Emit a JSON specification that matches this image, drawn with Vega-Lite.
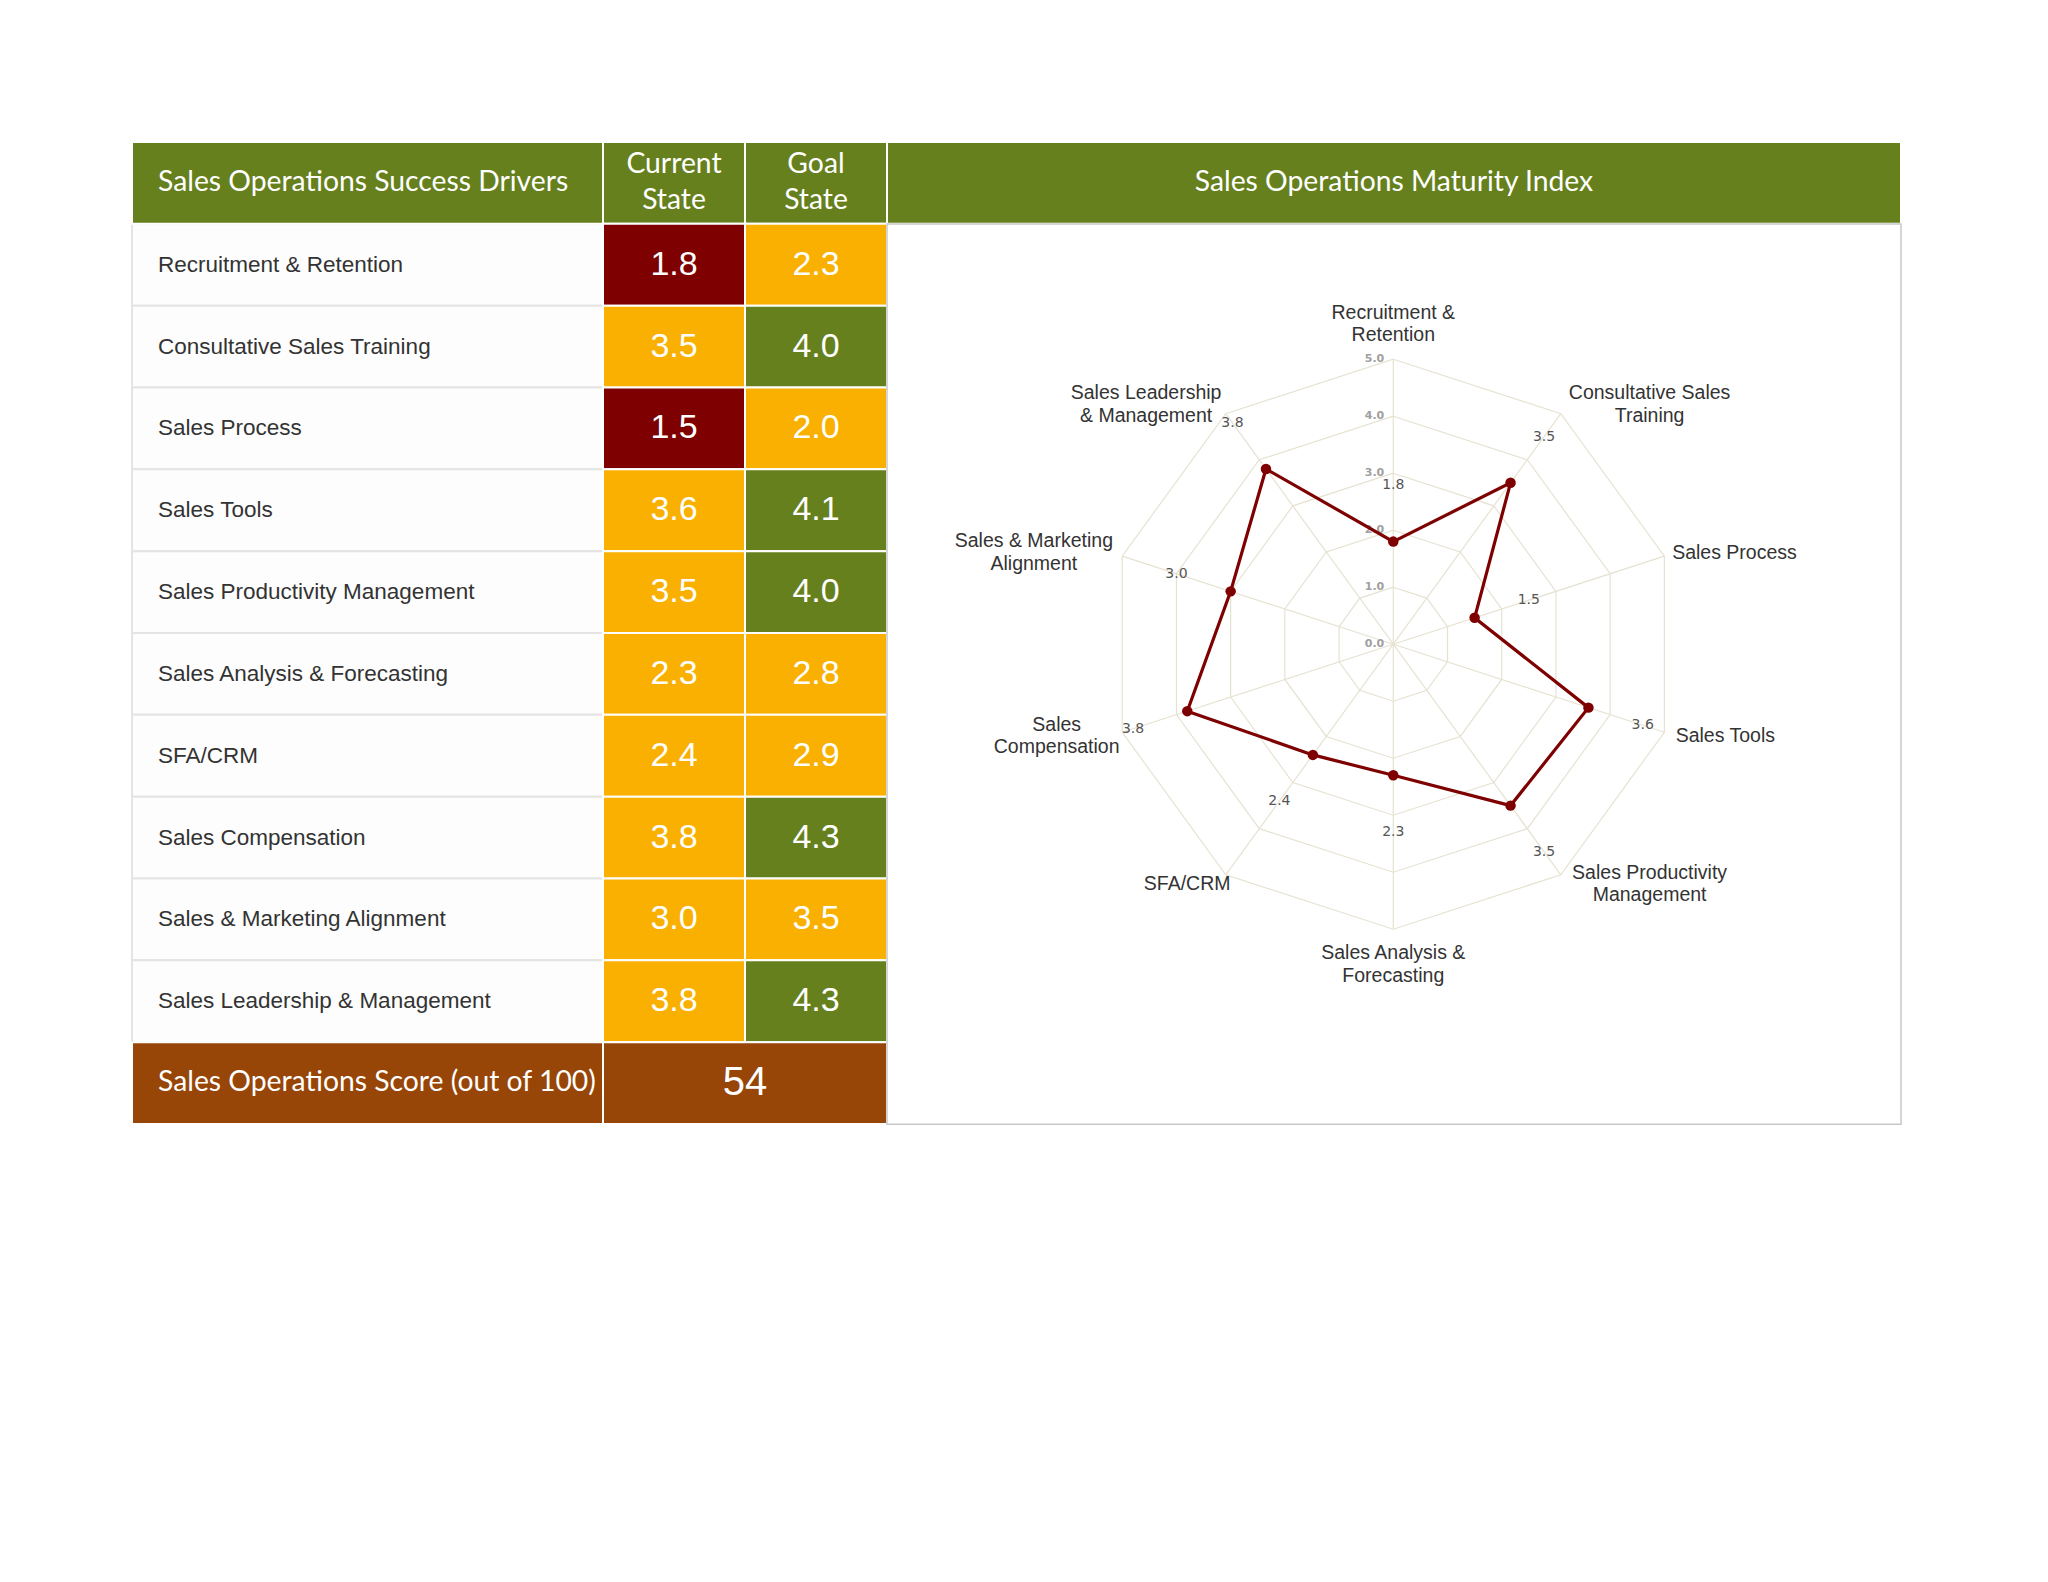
{
  "$schema": "https://vega.github.io/schema/vega-lite/v6.json",
  "background": "#ffffff",
  "padding": {"left": 131, "top": 141, "right": 0, "bottom": 0},
  "config": {"view": {"stroke": null}, "concat": {"spacing": 0}, "text": {"font": "Liberation Sans"}},
  "datasets": {
    "drivers": [
      {"i": 0, "driver": "Recruitment & Retention", "current": 1.8, "goal": 2.3, "lab": ["Recruitment &", "Retention"]},
      {"i": 1, "driver": "Consultative Sales Training", "current": 3.5, "goal": 4.0, "lab": ["Consultative Sales", "Training"]},
      {"i": 2, "driver": "Sales Process", "current": 1.5, "goal": 2.0, "lab": ["Sales Process"]},
      {"i": 3, "driver": "Sales Tools", "current": 3.6, "goal": 4.1, "lab": ["Sales Tools"]},
      {"i": 4, "driver": "Sales Productivity Management", "current": 3.5, "goal": 4.0, "lab": ["Sales Productivity", "Management"]},
      {"i": 5, "driver": "Sales Analysis & Forecasting", "current": 2.3, "goal": 2.8, "lab": ["Sales Analysis &", "Forecasting"]},
      {"i": 6, "driver": "SFA/CRM", "current": 2.4, "goal": 2.9, "lab": ["SFA/CRM"]},
      {"i": 7, "driver": "Sales Compensation", "current": 3.8, "goal": 4.3, "lab": ["Sales", "Compensation"]},
      {"i": 8, "driver": "Sales & Marketing Alignment", "current": 3.0, "goal": 3.5, "lab": ["Sales & Marketing", "Alignment"]},
      {"i": 9, "driver": "Sales Leadership & Management", "current": 3.8, "goal": 4.3, "lab": ["Sales Leadership", "& Management"]}
    ],
    "levels": [{"lv": 0}, {"lv": 1}, {"lv": 2}, {"lv": 3}, {"lv": 4}, {"lv": 5}],
    "rings": [
      {"lv": 1, "i": [0, 1, 2, 3, 4, 5, 6, 7, 8, 9]},
      {"lv": 2, "i": [0, 1, 2, 3, 4, 5, 6, 7, 8, 9]},
      {"lv": 3, "i": [0, 1, 2, 3, 4, 5, 6, 7, 8, 9]},
      {"lv": 4, "i": [0, 1, 2, 3, 4, 5, 6, 7, 8, 9]},
      {"lv": 5, "i": [0, 1, 2, 3, 4, 5, 6, 7, 8, 9]}
    ]
  },
  "spacing": 0,
  "bounds": "flush",
  "hconcat": [
    {
      "width": 471,
      "height": 982,
      "layer": [
        {
          "data": {"name": "drivers"},
          "mark": {"type": "rect", "fill": "#fdfdfd", "stroke": "#e4e4e4", "strokeWidth": 2},
          "encoding": {
            "y": {"field": "driver", "type": "nominal", "axis": null, "scale": {"domain": ["head", "Recruitment & Retention", "Consultative Sales Training", "Sales Process", "Sales Tools", "Sales Productivity Management", "Sales Analysis & Forecasting", "SFA/CRM", "Sales Compensation", "Sales & Marketing Alignment", "Sales Leadership & Management", "foot"], "paddingInner": 0, "paddingOuter": 0}}
          }
        },
        {
          "data": {"name": "drivers"},
          "mark": {"type": "text", "align": "left", "dx": 26, "fontSize": 22.5, "color": "#333333", "font": "Liberation Sans"},
          "encoding": {
            "y": {"field": "driver", "type": "nominal", "axis": null, "scale": {"domain": ["head", "Recruitment & Retention", "Consultative Sales Training", "Sales Process", "Sales Tools", "Sales Productivity Management", "Sales Analysis & Forecasting", "SFA/CRM", "Sales Compensation", "Sales & Marketing Alignment", "Sales Leadership & Management", "foot"], "paddingInner": 0, "paddingOuter": 0}},
            "x": {"datum": 0, "type": "quantitative", "axis": null, "scale": {"domain": [0, 1]}},
            "text": {"field": "driver"}
          }
        },
        {
          "data": {"values": [{"driver": "head", "t": "Sales Operations Success Drivers"}, {"driver": "foot", "t": "Sales Operations Score (out of 100)"}]},
          "mark": {"type": "rect", "stroke": "#ffffff", "strokeWidth": 2},
          "encoding": {
            "y": {"field": "driver", "type": "nominal", "axis": null, "scale": {"domain": ["head", "Recruitment & Retention", "Consultative Sales Training", "Sales Process", "Sales Tools", "Sales Productivity Management", "Sales Analysis & Forecasting", "SFA/CRM", "Sales Compensation", "Sales & Marketing Alignment", "Sales Leadership & Management", "foot"], "paddingInner": 0, "paddingOuter": 0}},
            "fill": {"field": "driver", "type": "nominal", "legend": null, "scale": {"domain": ["head", "foot"], "range": ["#66801e", "#984608"]}}
          }
        },
        {
          "data": {"values": [{"driver": "head", "t": "Sales Operations Success Drivers"}, {"driver": "foot", "t": "Sales Operations Score (out of 100)"}]},
          "mark": {"type": "text", "align": "left", "dx": 26, "fontSize": 28.3, "color": "#ffffff", "font": "Lato"},
          "encoding": {
            "y": {"field": "driver", "type": "nominal", "axis": null, "scale": {"domain": ["head", "Recruitment & Retention", "Consultative Sales Training", "Sales Process", "Sales Tools", "Sales Productivity Management", "Sales Analysis & Forecasting", "SFA/CRM", "Sales Compensation", "Sales & Marketing Alignment", "Sales Leadership & Management", "foot"], "paddingInner": 0, "paddingOuter": 0}},
            "x": {"datum": 0, "type": "quantitative", "axis": null, "scale": {"domain": [0, 1]}},
            "text": {"field": "t"}
          }
        }
      ]
    },
    {
      "width": 284,
      "height": 982,
      "layer": [
        {
          "data": {"values": [{"driver": "head", "col": "current", "t": ["Current", "State"]}, {"driver": "head", "col": "goal", "t": ["Goal", "State"]}]},
          "mark": {"type": "rect", "fill": "#66801e", "stroke": "#ffffff", "strokeWidth": 2},
          "encoding": {
            "y": {"field": "driver", "type": "nominal", "axis": null, "scale": {"domain": ["head", "Recruitment & Retention", "Consultative Sales Training", "Sales Process", "Sales Tools", "Sales Productivity Management", "Sales Analysis & Forecasting", "SFA/CRM", "Sales Compensation", "Sales & Marketing Alignment", "Sales Leadership & Management", "foot"], "paddingInner": 0, "paddingOuter": 0}},
            "x": {"field": "col", "type": "nominal", "axis": null, "scale": {"domain": ["current", "goal"], "paddingInner": 0, "paddingOuter": 0}}
          }
        },
        {
          "data": {"values": [{"driver": "head", "col": "current", "t": ["Current", "State"]}, {"driver": "head", "col": "goal", "t": ["Goal", "State"]}]},
          "mark": {"type": "text", "fontSize": 28.3, "lineHeight": 36, "dy": -18, "color": "#ffffff", "font": "Lato"},
          "encoding": {
            "y": {"field": "driver", "type": "nominal", "axis": null, "scale": {"domain": ["head", "Recruitment & Retention", "Consultative Sales Training", "Sales Process", "Sales Tools", "Sales Productivity Management", "Sales Analysis & Forecasting", "SFA/CRM", "Sales Compensation", "Sales & Marketing Alignment", "Sales Leadership & Management", "foot"], "paddingInner": 0, "paddingOuter": 0}},
            "x": {"field": "col", "type": "nominal", "axis": null, "scale": {"domain": ["current", "goal"], "paddingInner": 0, "paddingOuter": 0}},
            "text": {"field": "t"}
          }
        },
        {
          "data": {"name": "drivers"},
          "transform": [{"fold": ["current", "goal"], "as": ["col", "value"]}],
          "mark": {"type": "rect", "stroke": "#ffffff", "strokeWidth": 2},
          "encoding": {
            "y": {"field": "driver", "type": "nominal", "axis": null, "scale": {"domain": ["head", "Recruitment & Retention", "Consultative Sales Training", "Sales Process", "Sales Tools", "Sales Productivity Management", "Sales Analysis & Forecasting", "SFA/CRM", "Sales Compensation", "Sales & Marketing Alignment", "Sales Leadership & Management", "foot"], "paddingInner": 0, "paddingOuter": 0}},
            "x": {"field": "col", "type": "nominal", "axis": null, "scale": {"domain": ["current", "goal"], "paddingInner": 0, "paddingOuter": 0}},
            "fill": {"field": "value", "type": "quantitative", "legend": null, "scale": {"type": "threshold", "domain": [2, 4], "range": ["#7e0000", "#f9b000", "#66801e"]}}
          }
        },
        {
          "data": {"name": "drivers"},
          "transform": [{"fold": ["current", "goal"], "as": ["col", "value"]}],
          "mark": {"type": "text", "fontSize": 34, "color": "#ffffff", "font": "Liberation Sans"},
          "encoding": {
            "y": {"field": "driver", "type": "nominal", "axis": null, "scale": {"domain": ["head", "Recruitment & Retention", "Consultative Sales Training", "Sales Process", "Sales Tools", "Sales Productivity Management", "Sales Analysis & Forecasting", "SFA/CRM", "Sales Compensation", "Sales & Marketing Alignment", "Sales Leadership & Management", "foot"], "paddingInner": 0, "paddingOuter": 0}},
            "x": {"field": "col", "type": "nominal", "axis": null, "scale": {"domain": ["current", "goal"], "paddingInner": 0, "paddingOuter": 0}},
            "text": {"field": "value", "type": "quantitative", "format": ".1f"}
          }
        },
        {
          "data": {"values": [{"driver": "foot", "score": 54}]},
          "mark": {"type": "rect", "fill": "#984608", "stroke": "#ffffff", "strokeWidth": 2},
          "encoding": {
            "y": {"field": "driver", "type": "nominal", "axis": null, "scale": {"domain": ["head", "Recruitment & Retention", "Consultative Sales Training", "Sales Process", "Sales Tools", "Sales Productivity Management", "Sales Analysis & Forecasting", "SFA/CRM", "Sales Compensation", "Sales & Marketing Alignment", "Sales Leadership & Management", "foot"], "paddingInner": 0, "paddingOuter": 0}}
          }
        },
        {
          "data": {"values": [{"driver": "foot", "score": 54}]},
          "mark": {"type": "text", "fontSize": 40, "color": "#ffffff", "font": "Liberation Sans"},
          "encoding": {
            "y": {"field": "driver", "type": "nominal", "axis": null, "scale": {"domain": ["head", "Recruitment & Retention", "Consultative Sales Training", "Sales Process", "Sales Tools", "Sales Productivity Management", "Sales Analysis & Forecasting", "SFA/CRM", "Sales Compensation", "Sales & Marketing Alignment", "Sales Leadership & Management", "foot"], "paddingInner": 0, "paddingOuter": 0}},
            "text": {"field": "score", "type": "quantitative"}
          }
        }
      ]
    },
    {
      "spacing": 0,
      "bounds": "flush",
      "vconcat": [
        {
          "width": 1014,
          "height": 81.83,
          "data": {"values": [{"t": "Sales Operations Maturity Index"}]},
          "layer": [
            {"mark": {"type": "rect", "fill": "#66801e", "stroke": "#ffffff", "strokeWidth": 2}, "encoding": {}},
            {"mark": {"type": "text", "fontSize": 28.3, "color": "#ffffff", "font": "Lato"}, "encoding": {"text": {"field": "t"}}}
          ]
        },
        {
          "width": 1014,
          "height": 900.17,
          "view": {"stroke": "#c8c8c8", "strokeWidth": 1.5, "fill": "#ffffff"},
          "encoding": {
            "x": {"field": "x", "type": "quantitative", "axis": null, "scale": {"domain": [-8.882, 8.907], "nice": false, "zero": false}},
            "y": {"field": "y", "type": "quantitative", "axis": null, "scale": {"domain": [-8.42, 7.372], "nice": false, "zero": false}}
          },
          "layer": [
            {
              "data": {"name": "drivers"},
              "transform": [
                {"calculate": "datum.i*PI/5", "as": "th"},
                {"calculate": "0", "as": "x"},
                {"calculate": "0", "as": "y"},
                {"calculate": "5*sin(datum.th)", "as": "x2"},
                {"calculate": "5*cos(datum.th)", "as": "y2"}
              ],
              "mark": {"type": "rule", "color": "#e6e2d2", "strokeWidth": 1.2},
              "encoding": {"x2": {"field": "x2"}, "y2": {"field": "y2"}}
            },
            {
              "data": {"name": "rings"},
              "transform": [
                {"flatten": ["i"]},
                {"calculate": "datum.i*PI/5", "as": "th"},
                {"calculate": "datum.lv*sin(datum.th)", "as": "x"},
                {"calculate": "datum.lv*cos(datum.th)", "as": "y"}
              ],
              "mark": {"type": "line", "interpolate": "linear-closed", "color": "#e6e2d2", "strokeWidth": 1.2},
              "encoding": {"detail": {"field": "lv", "type": "nominal"}, "order": {"field": "i", "type": "quantitative"}}
            },
            {
              "data": {"name": "levels"},
              "transform": [{"calculate": "0", "as": "x"}, {"calculate": "datum.lv", "as": "y"}],
              "mark": {"type": "text", "align": "right", "dx": -9, "fontSize": 11, "fontWeight": "bold", "color": "#a0a0a0", "font": "DejaVu Sans"},
              "encoding": {"text": {"field": "lv", "type": "quantitative", "format": ".1f"}}
            },
            {
              "data": {"name": "drivers"},
              "transform": [
                {"calculate": "datum.i*PI/5", "as": "th"},
                {"calculate": "(datum.current+1)*sin(datum.th)", "as": "x"},
                {"calculate": "(datum.current+1)*cos(datum.th)", "as": "y"}
              ],
              "mark": {"type": "text", "fontSize": 14, "color": "#555555", "font": "DejaVu Sans"},
              "encoding": {"text": {"field": "current", "type": "quantitative", "format": ".1f"}}
            },
            {
              "data": {"name": "drivers"},
              "transform": [
                {"calculate": "datum.i*PI/5", "as": "th"},
                {"calculate": "datum.current*sin(datum.th)", "as": "x"},
                {"calculate": "datum.current*cos(datum.th)", "as": "y"}
              ],
              "mark": {"type": "line", "interpolate": "linear-closed", "color": "#7e0000", "strokeWidth": 3.2},
              "encoding": {"order": {"field": "i", "type": "quantitative"}}
            },
            {
              "data": {"name": "drivers"},
              "transform": [
                {"calculate": "datum.i*PI/5", "as": "th"},
                {"calculate": "datum.current*sin(datum.th)", "as": "x"},
                {"calculate": "datum.current*cos(datum.th)", "as": "y"}
              ],
              "mark": {"type": "circle", "color": "#7e0000", "size": 110, "opacity": 1},
              "encoding": {}
            },
            {
              "data": {"name": "drivers"},
              "transform": [
                {"calculate": "datum.i*PI/5", "as": "th"},
                {"calculate": "sin(datum.th)", "as": "s"},
                {"calculate": "cos(datum.th)", "as": "c"},
                {"calculate": "abs(datum.s) < 0.1 ? 0 : (datum.s > 0 ? 1 : -1)", "as": "side"},
                {"calculate": "0.16*max(length(datum.lab[0]), datum.lab.length > 1 ? length(datum.lab[1]) : 0)", "as": "w"},
                {"calculate": "5.2*datum.s + datum.side*datum.w/2", "as": "x"},
                {"calculate": "5.2*datum.c + (datum.side == 0 ? (datum.c > 0 ? 0.42 : -0.42) : 0) + (datum.lab.length - 1)*0.197", "as": "y"}
              ],
              "mark": {"type": "text", "fontSize": 19.5, "lineHeight": 22.5, "color": "#333333", "font": "Liberation Sans"},
              "encoding": {"text": {"field": "lab"}}
            }
          ]
        }
      ]
    }
  ]
}
